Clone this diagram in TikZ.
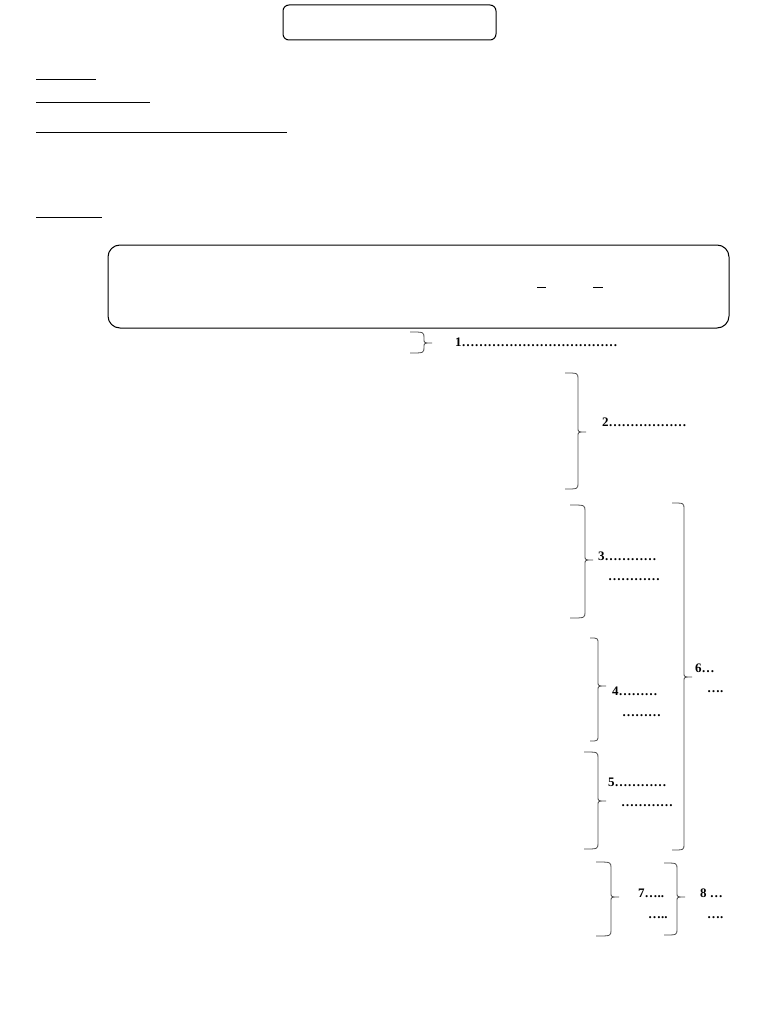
\documentclass[tikz,border=0pt]{standalone}
\usepackage{fontspec}
\setmainfont{Liberation Serif}
\begin{document}
\begin{tikzpicture}[x=1pt,y=-1pt,
  lbl/.style={anchor=west,inner sep=0pt,font=\bfseries\fontsize{13}{13}\selectfont},
  brc/.style={draw=black!70,line width=0.8pt},
  frame/.style={draw,line width=1pt,rounded corners=6pt}]
\useasboundingbox (0,0) rectangle (768,1024);
\newcommand{\rbr}[5]{% x0 x1 top mid bot
  \draw[brc] (#1,#3) .. controls (#2,#3) and (#2,#3) .. (#2,#3+6) -- (#2,#4-4) .. controls (#2,#4) .. (#2+8,#4)
  (#2+8,#4) .. controls (#2,#4) .. (#2,#4+4) -- (#2,#5-6) .. controls (#2,#5) and (#2,#5) .. (#1,#5);}
\node[frame,minimum width=213pt,minimum height=35pt] (title) at (389.5,22.5) {};
\draw[line width=1pt] (36,80) -- (96,80);
\draw[line width=1pt] (36,103) -- (150,103);
\draw[line width=0.7pt] (36,132) -- (287,132);
\draw[line width=1pt] (36,218) -- (102,218);
\node[frame,rounded corners=12pt,minimum width=621pt,minimum height=83pt] (main) at (418.5,286.5) {};
\draw (537,287) -- (546,287) (593,287) -- (603,287);
\rbr{410}{424}{332}{343}{353}
\node[lbl] (t1) at (455,342) {1………………………………};
\rbr{565}{578}{373}{432}{489}
\node[lbl] (t2) at (602,422) {2………………};
\rbr{570}{585}{505}{560}{618}
\node[lbl] (t3) at (598,556) {3…………};
\node[lbl] (t3b) at (608,580) {…………};
\rbr{590}{598}{638}{686}{741}
\node[lbl] (t4) at (612,691) {4………};
\node[lbl] (t4b) at (622,716) {………};
\rbr{584}{598}{752}{801}{849}
\node[lbl] (t5) at (608,782) {5…………};
\node[lbl] (t5b) at (621,806) {…………};
\rbr{672}{684}{503}{677}{850}
\node[lbl] (t6) at (695,668) {6…};
\node[lbl] (t6b) at (707,692) {….};
\rbr{596}{611}{862}{897}{936}
\node[lbl] (t7) at (638,893) {7…..};
\node[lbl] (t7b) at (648,918) {…..};
\rbr{664}{677}{863}{897}{935}
\node[lbl] (t8) at (700,893) {8 …};
\node[lbl] (t8b) at (707,918) {….};
\end{tikzpicture}
\end{document}
